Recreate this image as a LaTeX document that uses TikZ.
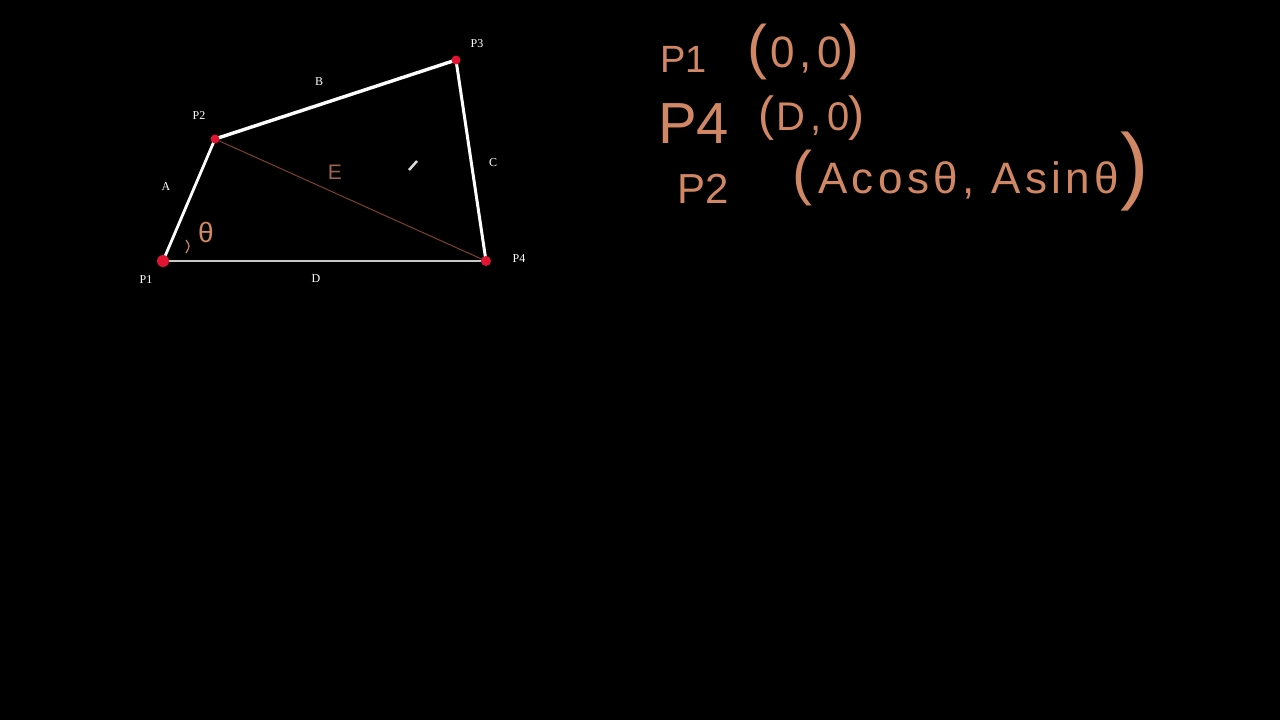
\documentclass[tikz,border=0pt]{standalone}
\usepackage{fontspec}
\setmainfont{Liberation Serif}
\newfontfamily\hand{Liberation Sans}
\definecolor{dotred}{RGB}{225,20,50}
\definecolor{hand}{RGB}{210,135,100}
\definecolor{diag}{RGB}{125,65,45}
\definecolor{base}{RGB}{200,200,200}
\newcommand{\fs}[1]{\fontsize{#1}{#1}\selectfont}
\tikzset{
  lbl/.style={text=white, font=\fs{12}, inner sep=0pt},
  bar/.style={white, line width=3pt, line cap=round},
  joint/.style={circle, fill=dotred, inner sep=0pt, minimum size=#1},
  hw/.style={text=hand, font=\hand, inner sep=0pt, anchor=base west}
}
\begin{document}
\begin{tikzpicture}[x=1pt,y=-1pt]
\fill[black] (0,0) rectangle (1280,720);
\useasboundingbox (0,0) rectangle (1280,720);
% joints
\coordinate (p1) at (163,261);
\coordinate (p2) at (215,139);
\coordinate (p3) at (456,60);
\coordinate (p4) at (486,261);
% links
\draw[base, line width=1.5pt] (p1) -- (p4);
\draw[diag, line width=1pt] (p2) -- (p4);
\draw[bar, line width=2.8pt] (p1) -- (p2);
\draw[bar, line width=3.4pt] (p2) -- (p3);
\draw[bar, line width=3pt] (p3) -- (p4);
\node[joint=12pt] (j1) at (p1) {};
\node[joint=9pt] (j2) at (p2) {};
\node[joint=9pt] (j3) at (p3) {};
\node[joint=10pt] (j4) at (p4) {};
% labels
\node[lbl] (l1) at (146,280) {P1};
\node[lbl] (l2) at (199,116) {P2};
\node[lbl] (l3) at (477,44) {P3};
\node[lbl] (l4) at (519,259) {P4};
\node[lbl] (la) at (166,187) {A};
\node[lbl] (lb) at (319,82) {B};
\node[lbl] (lc) at (493,163) {C};
\node[lbl] (ld) at (316,279) {D};
\node[text=hand!75!black, font=\hand\fs{21}, inner sep=0pt] (le) at (335,172) {E};
% angle
\draw[hand, line width=1.2pt] (186,240) .. controls (190,246) .. (186,253);
\node[text=hand, font=\hand\fs{28}, inner sep=0pt] (th) at (206,232) {θ};
% cursor
\draw[white!85!black, line width=2.5pt] (409,170) -- (417,161);
% handwritten notes
\node[hw, font=\hand\fs{38}] (n1) at (660,72) {P1};
\node[hw] (n1c) at (747,67) {\fs{60}(\hspace{3pt}{\fs{44}\addfontfeature{LetterSpace=12}0,0}\hspace{-2pt})};
\node[hw, font=\hand\fs{58}] (n4) at (658,143) {P4};
\node[hw] (n4c) at (758,130) {\fs{48}(\hspace{2pt}{\fs{40}\addfontfeature{LetterSpace=14}D,0}\hspace{-1pt})};
\node[hw, font=\hand\fs{42}] (n2) at (677,203) {P2};
\node[hw] (n2c) at (792,193) {\fs{60}(\hspace{6pt}{\fs{44}\addfontfeature{LetterSpace=10}Acosθ, Asinθ}\hspace{2pt}{\fs{85})}};
\end{tikzpicture}
\end{document}
